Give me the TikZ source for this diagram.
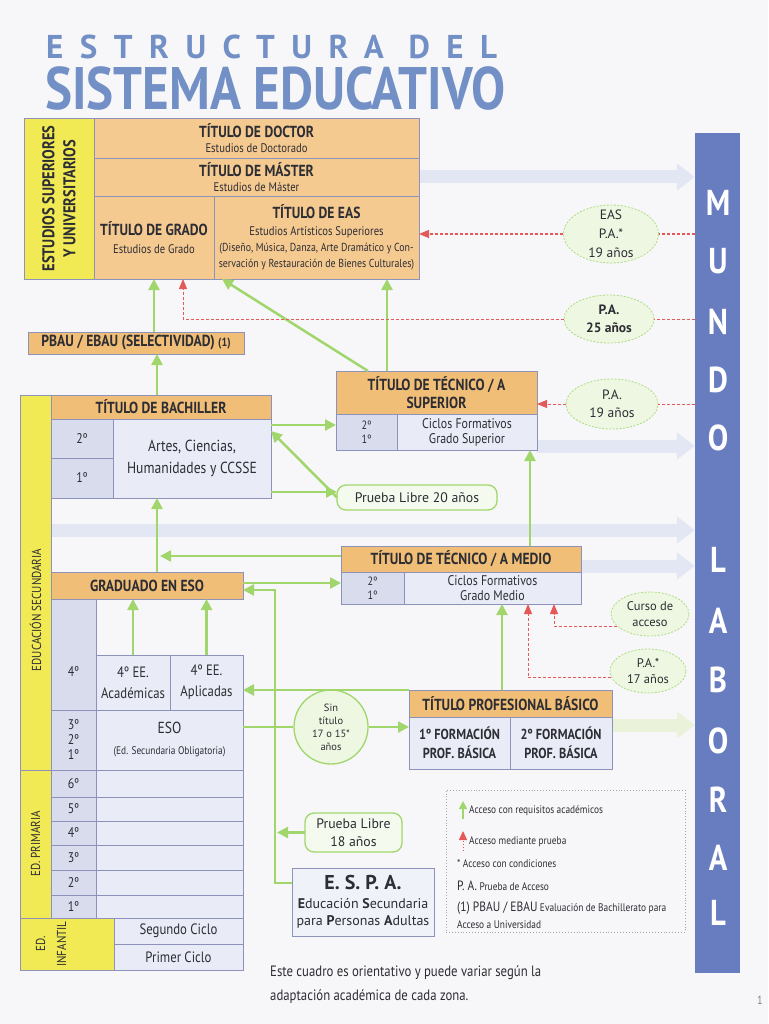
\documentclass[tikz,border=0pt]{standalone}
\usepackage{fontspec}
\setmainfont{PT Sans}[FakeStretch=0.85]
\newfontfamily\titlefont{PT Sans}
\usepackage{tikz}
\usetikzlibrary{arrows.meta,shapes.geometric,backgrounds}

\definecolor{bordc}{RGB}{140,146,186}
\definecolor{cellc}{RGB}{233,236,246}
\definecolor{colc}{RGB}{216,220,237}
\definecolor{hdrc}{RGB}{241,190,120}
\definecolor{topc}{RGB}{245,202,145}
\definecolor{yelc}{RGB}{241,234,84}
\definecolor{grnc}{RGB}{160,214,108}
\definecolor{lgrnc}{RGB}{238,247,226}
\definecolor{redc}{RGB}{228,88,88}
\definecolor{bluec}{RGB}{104,124,192}
\definecolor{titc}{RGB}{114,144,198}
\definecolor{fadec}{RGB}{226,231,243}
\definecolor{fadeg}{RGB}{234,242,218}
\definecolor{txtc}{RGB}{45,45,52}
\definecolor{pagec}{RGB}{247,247,249}

\newcommand{\hfont}{\fontsize{16}{18}\selectfont\bfseries}

\begin{document}
\begin{tikzpicture}[x=1pt, y=-1pt,
    box/.style={draw=bordc, fill=cellc, line width=0.6pt, inner sep=0pt, outer sep=0pt, align=center, text=txtc, font=\fontsize{14}{16}\selectfont},
    col/.style={box, fill=colc},
    hdr/.style={box, fill=hdrc, font=\hfont},
    top/.style={box, fill=topc, font=\fontsize{12.5}{15}\selectfont},
    yel/.style={box, fill=yelc},
    vtxt/.style={rotate=90, inner sep=0pt, align=center, text=txtc},
    lbl/.style={inner sep=0pt, align=center, text=txtc, font=\fontsize{14}{16}\selectfont},
    pill/.style={box, draw=grnc, fill=lgrnc!60, line width=1.3pt, rounded corners=9pt, font=\titlefont\fontsize{13.8}{18}\selectfont},
    oval/.style={ellipse, draw=grnc!85, fill=lgrnc, dash pattern=on 2pt off 1.5pt, line width=0.8pt, inner sep=0pt},
    acc/.style={draw=grnc, line width=2.5pt, -{Triangle[length=11pt,width=11pt]}},
    prueba/.style={draw=redc, dash pattern=on 3pt off 2pt, line width=1pt, -{Triangle[length=10pt,width=8pt]}},
    fade/.style={draw=fadec, line width=13pt, -{Triangle[length=18pt,width=26pt]}},
    letra/.style={text=white, font=\fontsize{36}{36}\selectfont\bfseries, inner sep=0pt},
    leg/.style={anchor=west, inner sep=0pt, text=txtc, font=\fontsize{11}{12}\selectfont}]
    \useasboundingbox (0,0) rectangle (768,1024);

    % Title
    \node[anchor=west, inner sep=0pt, text=titc, font=\titlefont\fontsize{33}{33}\selectfont\bfseries\addfontfeature{LetterSpace=50}] (tit1) at (46,47) {ESTRUCTURA DEL};
    \node[anchor=west, inner sep=0pt, text=titc, font=\fontsize{60}{60}\selectfont\bfseries] (tit2) at (45,89) {SISTEMA EDUCATIVO};

    % Nodes: estudios superiores
    \node[yel, minimum width=70pt, minimum height=161pt] (sup) at (59,198.5) {};
    \node[vtxt, font=\fontsize{17}{21}\selectfont\bfseries] (suptxt) at (sup.center) {ESTUDIOS SUPERIORES\\Y UNIVERSITARIOS};
    \node[top, minimum width=325pt, minimum height=40pt] (doctor) at (256.5,138) {{\hfont TÍTULO DE DOCTOR}\\Estudios de Doctorado};
    \node[top, minimum width=325pt, minimum height=38pt] (master) at (256.5,177) {{\hfont TÍTULO DE MÁSTER}\\Estudios de Máster};
    \node[top, minimum width=120pt, minimum height=83pt] (grado) at (154,237.5) {{\hfont TÍTULO DE GRADO}\\[3pt]Estudios de Grado};
    \node[top, minimum width=205pt, minimum height=83pt] (eas) at (316.5,237.5) {{\hfont TÍTULO DE EAS}\\[2pt]Estudios Artísticos Superiores\\[1pt]
        {\fontsize{11.6}{12}\selectfont (Diseño, Música, Danza, Arte Dramático y Con-}\\[1pt]{\fontsize{11.6}{12}\selectfont servación y Restauración de Bienes Culturales)}};
    \node[hdr, minimum width=216pt, minimum height=22pt] (pbau) at (136,343) {PBAU / EBAU (SELECTIVIDAD) {\fontsize{12}{12}\selectfont(1)}};

    % Nodes: secundaria
    \node[yel, minimum width=31pt, minimum height=375pt] (secun) at (35.5,582.5) {};
    \node[vtxt, font=\fontsize{13}{15}\selectfont] (secuntxt) at (35.5,610) {EDUCACIÓN SECUNDARIA};
    \node[hdr, minimum width=220pt, minimum height=24pt] (bach) at (161,407) {TÍTULO DE BACHILLER};
    \node[col, minimum width=62pt, minimum height=39pt] (bach2) at (82,438.5) {2º};
    \node[col, minimum width=62pt, minimum height=40pt] (bach1) at (82,478) {1º};
    \node[box, minimum width=158pt, minimum height=79pt, font=\fontsize{16}{22}\selectfont] (bachtxt) at (192,458.5) {Artes, Ciencias,\\Humanidades y CCSSE};
    \node[hdr, minimum width=192pt, minimum height=27pt] (grad) at (147,585.5) {GRADUADO EN ESO};
    \node[col, minimum width=45pt, minimum height=111pt] (cuarto) at (73.5,654.5) {};
    \node[lbl] (cuartotxt) at (73.5,672) {4º};
    \node[box, minimum width=74pt, minimum height=55pt, font=\fontsize{15}{21}\selectfont] (acad) at (133,682.5) {4º EE.\\Académicas};
    \node[box, minimum width=73pt, minimum height=55pt, font=\fontsize{15}{21}\selectfont] (aplic) at (206.5,682.5) {4º EE.\\Aplicadas};
    \node[col, minimum width=45pt, minimum height=60pt, font=\fontsize{14}{15}\selectfont] (esocur) at (73.5,740) {3º\\2º\\1º};
    \node[box, minimum width=147pt, minimum height=60pt] (eso) at (169.5,740) {{\fontsize{16}{16}\selectfont ESO}\\[5pt]{\fontsize{11}{11}\selectfont(Ed. Secundaria Obligatoria)}};

    % Nodes: primaria e infantil
    \node[yel, minimum width=31pt, minimum height=148pt] (prim) at (35.5,844) {};
    \node[vtxt, font=\fontsize{13}{15}\selectfont] (primtxt) at (prim.center) {ED. PRIMARIA};
    \foreach \g/\yy/\hh in {6/783.5/27, 5/809/24, 4/833/24, 3/857.5/25, 2/882.5/25, 1/906.5/23} {
        \node[col, minimum width=45pt, minimum height=\hh pt] (p\g) at (73.5,\yy) {\g{}º};
        \node[box, minimum width=147pt, minimum height=\hh pt] (pr\g) at (169.5,\yy) {};
    }
    \node[yel, minimum width=94pt, minimum height=52pt] (inf) at (67,944) {};
    \node[vtxt, font=\fontsize{13}{21}\selectfont] (inftxt) at (51,944) {ED.\\INFANTIL};
    \node[box, minimum width=129pt, minimum height=26pt, font=\fontsize{15}{16}\selectfont] (segciclo) at (178.5,931) {Segundo Ciclo};
    \node[box, minimum width=129pt, minimum height=26pt, font=\fontsize{15}{16}\selectfont] (primciclo) at (178.5,957) {Primer Ciclo};

    % Nodes: formacion profesional
    \node[hdr, minimum width=201pt, minimum height=43pt] (tshdr) at (436.5,392.5) {TÍTULO DE TÉCNICO / A\\SUPERIOR};
    \node[col, minimum width=61pt, minimum height=36pt, font=\fontsize{12}{14}\selectfont] (ts21) at (366.5,432) {2º\\1º};
    \node[box, minimum width=140pt, minimum height=36pt, font=\fontsize{14}{15}\selectfont] (tstxt) at (467,432) {Ciclos Formativos\\Grado Superior};
    \node[pill, minimum width=160pt, minimum height=25pt] (pl20) at (417,497.5) {Prueba Libre 20 años};
    \node[hdr, minimum width=240pt, minimum height=26pt] (tmhdr) at (461,559) {TÍTULO DE TÉCNICO / A MEDIO};
    \node[col, minimum width=63pt, minimum height=32pt, font=\fontsize{12}{14}\selectfont] (tm21) at (372.5,588) {2º\\1º};
    \node[box, minimum width=177pt, minimum height=32pt, font=\fontsize{14}{15}\selectfont] (tmtxt) at (492.5,588) {Ciclos Formativos\\Grado Medio};
    \node[hdr, minimum width=203pt, minimum height=27pt] (pbhdr) at (510.5,703.5) {TÍTULO PROFESIONAL BÁSICO};
    \node[box, minimum width=101pt, minimum height=52pt, font=\fontsize{14.5}{19}\selectfont\bfseries] (pb1) at (459.5,743) {1º FORMACIÓN\\PROF. BÁSICA};
    \node[box, minimum width=102pt, minimum height=52pt, font=\fontsize{14.5}{19}\selectfont\bfseries] (pb2) at (561,743) {2º FORMACIÓN\\PROF. BÁSICA};
    \node[circle, draw=grnc, fill=lgrnc, line width=1.3pt, minimum size=74pt, inner sep=0pt, align=center, text=txtc, font=\titlefont\fontsize{10.5}{13}\selectfont] (sint) at (331,727) {Sin\\título\\17 o 15*\\años};
    \node[pill, minimum width=97pt, minimum height=39pt] (pl18) at (353.5,832.5) {Prueba Libre\\18 años};
    \node[box, fill=cellc!70, minimum width=142pt, minimum height=68pt, font=\titlefont\fontsize{14}{17}\selectfont] (espa) at (363,902) {{\fontsize{20}{20}\selectfont\bfseries E. S. P. A.}\\[2pt]\textbf{E}ducación \textbf{S}ecundaria\\para \textbf{P}ersonas \textbf{A}dultas};

    % Nodes: pruebas de acceso
    \node[oval, minimum width=95pt, minimum height=58pt] (easpa) at (611,234) {};
    \node[lbl, font=\titlefont\fontsize{13.5}{19}\selectfont] (easpatxt) at (easpa.center) {EAS\\P.A.*\\19 años};
    \node[oval, minimum width=90pt, minimum height=48pt] (pa25) at (609,319) {};
    \node[lbl, font=\titlefont\fontsize{13.5}{18}\selectfont\bfseries] (pa25txt) at (pa25.center) {P.A.\\25 años};
    \node[oval, minimum width=92pt, minimum height=50pt] (pa19) at (612,404) {};
    \node[lbl, font=\titlefont\fontsize{13.5}{18}\selectfont] (pa19txt) at (pa19.center) {P.A.\\19 años};
    \node[oval, minimum width=78pt, minimum height=44pt] (curso) at (650,614) {};
    \node[lbl, font=\titlefont\fontsize{12.5}{16}\selectfont] (cursotxt) at (curso.center) {Curso de\\acceso};
    \node[oval, minimum width=76pt, minimum height=44pt] (pa17) at (648,671) {};
    \node[lbl, font=\titlefont\fontsize{12.5}{16}\selectfont] (pa17txt) at (pa17.center) {P.A.*\\17 años};

    % Mundo laboral
    \node[fill=bluec, minimum width=45pt, minimum height=840pt, inner sep=0pt] (mundo) at (717.5,553) {};
    \foreach \l/\yy [count=\i] in {M/203, U/261, N/322, D/380, O/438, L/560, A/621, B/680, O/741, R/800, A/858, L/913}
        \node[letra] (m\i) at (718,\yy) {\l};

    % Leyenda
    \node[draw=gray!70, dotted, line width=0.9pt, minimum width=239pt, minimum height=142pt, inner sep=0pt] (leyenda) at (565.5,861) {};
    \node[leg] (l1) at (469,811) {Acceso con requisitos académicos};
    \node[leg] (l2) at (469,842) {Acceso mediante prueba};
    \node[leg] (l3) at (457,864) {* Acceso con condiciones};
    \node[leg] (l4) at (457,886) {{\fontsize{13.5}{13}\selectfont P. A.} Prueba de Acceso};
    \node[leg] (l5) at (457,908) {{\fontsize{13.5}{13}\selectfont (1) PBAU / EBAU} Evaluación de Bachillerato para};
    \node[leg] (l6) at (457,925) {Acceso a Universidad};
    \node[anchor=west, inner sep=0pt, align=left, text=txtc, font=\fontsize{15}{24}\selectfont] (nota) at (270,985) {Este cuadro es orientativo y puede variar según la\\adaptación académica de cada zona.};
    \node[inner sep=0pt, text=gray, font=\fontsize{12}{12}\selectfont] (pagina) at (760,1000) {1};

    % Edges
    \draw[acc] (grado.south |- pbau.north) -- (grado.south);
    \draw[acc] (bach.north -| 157,0) -- (pbau.south -| 157,0);
    \draw[acc] (tshdr.north -| 368,0) -- ([xshift=8pt]eas.south west);
    \draw[acc] (tshdr.north -| 387,0) -- (eas.south -| 387,0);
    \draw[acc] (bachtxt.east |- 0,425) -- (ts21.west |- 0,425);
    \draw[acc] (pl20.west) -- (bachtxt.east |- 0,431);
    \draw[acc] (bachtxt.east |- 0,492) -- (pl20.west |- 0,492);
    \draw[acc] (grad.north -| 157,0) -- (bachtxt.south -| 157,0);
    \coordinate (cruce) at (160,556);
    \draw[acc] (tmhdr.west |- cruce) -- (cruce);
    \draw[acc] (grad.east |- 0,583) -- (tm21.west |- 0,583);
    \draw[acc] (tmhdr.north -| 530,0) -- (tstxt.south -| 530,0);
    \draw[acc] (pbhdr.north -| 502,0) -- (tmtxt.south -| 502,0);
    \draw[acc] (pbhdr.north west) -- (aplic.east |- pbhdr.north west);
    \draw[acc, -] (eso.east |- sint) -- (sint.west);
    \draw[acc] (sint.east) -- (pb1.west |- sint);
    \draw[acc] (acad.north) -- (acad.north |- grad.south);
    \draw[acc] (aplic.north) -- (aplic.north |- grad.south);
    \draw[acc] (espa.west |- 0,883) -| (275,590) -- (grad.east |- 0,590);
    \coordinate (linea18) at (277,832.5);
    \draw[acc] (pl18.west) -- (linea18);

    \draw[prueba, -] (mundo.west |- easpa) -- (easpa.east);
    \draw[prueba] (easpa.west) -- (eas.east |- easpa.west);
    \draw[prueba, -] (mundo.west |- pa25) -- (pa25.east);
    \draw[prueba] (pa25.west) -| ([xshift=-31pt]grado.south east);
    \draw[prueba, -] (mundo.west |- pa19) -- (pa19.east);
    \draw[prueba] (pa19.west) -- (tshdr.east |- pa19.west);
    \draw[prueba] (curso.200) -| ([xshift=-27pt]tmtxt.south east);
    \draw[prueba] (pa17.190) -| ([xshift=-53pt]tmtxt.south east);

    % Legend icons
    \draw[acc, line width=1.8pt, -{Triangle[length=8pt,width=8pt]}] ([xshift=-6pt,yshift=-8pt]l1.west) -- ([xshift=-6pt,yshift=10pt]l1.west);
    \draw[prueba, line width=1pt, dash pattern=on 1.5pt off 1.5pt, -{Triangle[length=9pt,width=8pt]}] ([xshift=-6pt,yshift=-9pt]l2.west) -- ([xshift=-6pt,yshift=11pt]l2.west);

    % Background arrows
    \begin{scope}[on background layer]
        \fill[pagec] (0,0) rectangle (768,1024);
        \draw[fade] (master.east) -- (mundo.west |- master.east);
        \draw[fade] (tstxt.east |- 0,446) -- (mundo.west |- 0,446);
        \draw[fade] (secun.east |- 0,530) -- (mundo.west |- 0,530);
        \draw[fade] (tmhdr.east |- 0,566) -- (mundo.west |- 0,566);
        \draw[fade, draw=fadeg] (pbhdr.east |- 0,725) -- (mundo.west |- 0,725);
    \end{scope}
\end{tikzpicture}
\end{document}
